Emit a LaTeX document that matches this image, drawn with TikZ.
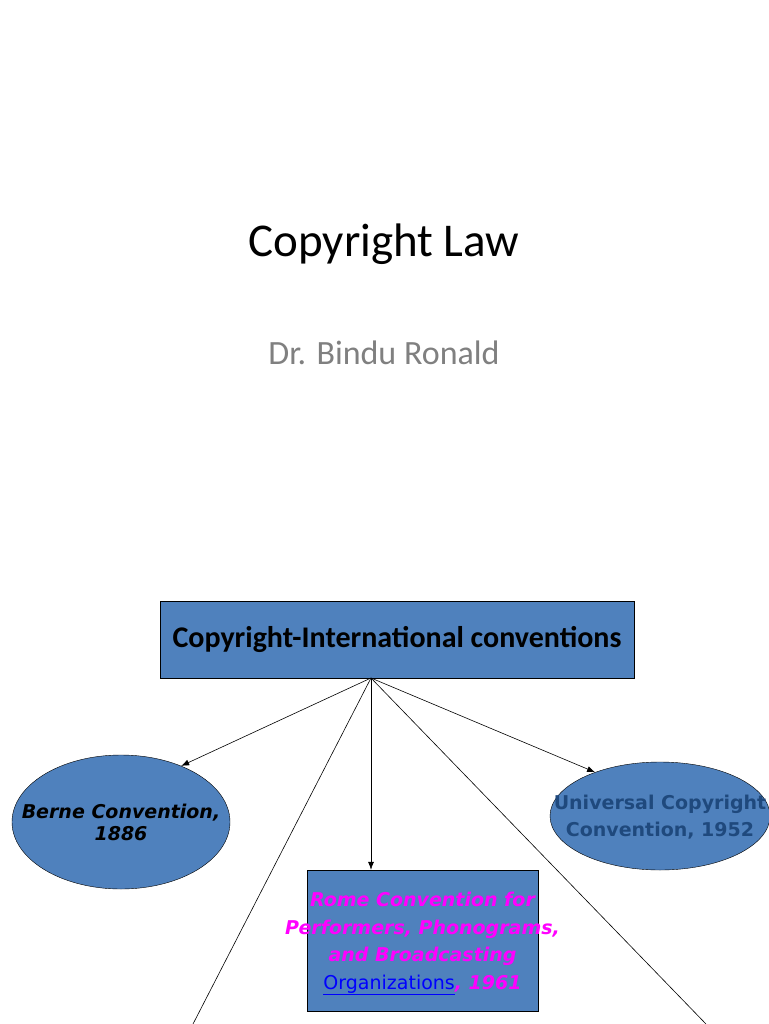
\documentclass[tikz,border=0pt]{standalone}
\usepackage{fontspec}
\setmainfont{Carlito}
\newfontfamily\dejavu{DejaVu Sans}
\usetikzlibrary{arrows.meta}
\usetikzlibrary{shapes.geometric}
\definecolor{officeblue}{HTML}{4F81BD}
\definecolor{darkblue}{HTML}{1F497D}
\definecolor{pinkish}{HTML}{FF00FF}
\tikzset{
  bluebox/.style={draw=black, fill=officeblue, inner sep=0pt},
  blueoval/.style={ellipse, draw=black, fill=officeblue, inner sep=0pt},
  link/.style={-{Latex[length=8pt,width=6pt]}, black, line width=0.6pt},
  ovaltext/.style={align=center}
}

\begin{document}
\begin{tikzpicture}[x=1pt,y=-1pt]
\useasboundingbox[fill=white] (0,0) rectangle (768,1024);

\node (title) at (384,244) {\fontsize{47}{56}\selectfont Copyright Law};
\node[text=gray] (author) at (384,353) {\fontsize{34}{40}\selectfont Dr. Bindu Ronald};

\node[bluebox, minimum width=474, minimum height=77] (conv) at (397,639.5)
  {\fontsize{30}{36}\selectfont\bfseries Copyright-International conventions};
\coordinate (hub) at (371,678); % where all the lines start

\node[blueoval, minimum width=218, minimum height=134,
  label={[ovaltext, font={\dejavu\bfseries\itshape\fontsize{19}{22}\selectfont}]center:{Berne Convention,\\1886}}] (berne) at (121,822) {};
\node[blueoval, minimum width=220, minimum height=108,
  label={[ovaltext, text=darkblue, font={\dejavu\bfseries\fontsize{19}{27}\selectfont}, yshift=-1.5]center:{Universal Copyright\\Convention, 1952}}] (univ) at (660,816) {};

\node[bluebox, minimum width=231, minimum height=141,
  label={[align=center, text=pinkish, font={\dejavu\bfseries\itshape\fontsize{19}{27.5}\selectfont}, yshift=-3]center:{Rome Convention for\\Performers, Phonograms,\\and Broadcasting\\{\mdseries\upshape\color{blue}\underline{Organizations}}, 1961}}] (rome) at (422.5,940.5) {};

\draw[link] (hub) -- (berne.43);
\draw[link] (hub) -- (univ.146);
\draw[link] (hub) -- (hub |- rome.north);

% two lines running off the bottom
\coordinate (lfoot) at (193,1024);
\coordinate (rfoot) at (706,1024);
\draw[black, line width=0.6pt] (hub) -- (lfoot);
\draw[black, line width=0.6pt] (hub) -- (rfoot);

\end{tikzpicture}
\end{document}
